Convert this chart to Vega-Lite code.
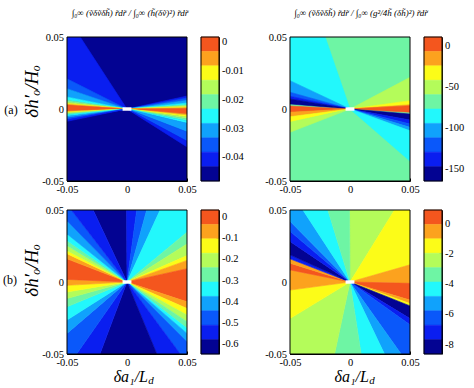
{
"$schema": "https://vega.github.io/schema/vega-lite/v6.json",
"autosize": {"type": "none"},
"padding": {"left": 67, "top": 37, "right": 407, "bottom": 351},
"background": "white",
"config": {
  "view": {"stroke": null},
  "axis": {"labelFont": "Liberation Serif", "labelFontSize": 10.5, "labelColor": "black", "domainColor": "black", "tickColor": "black", "tickSize": -3, "grid": false, "labelFlush": false, "labelOverlap": false, "labelBound": false, "zindex": 1, "titleFont": "Liberation Serif", "titleFontStyle": "italic", "titleFontWeight": "normal", "titleFontSize": 19, "titleColor": "black"}
},
"datasets": {
"w": [
{"p":"a1","t":0,"t2":360,"lev":10},
{"p":"a1","t":296.8,"t2":327,"lev":9},
{"p":"a1","t":288.7,"t2":296.8,"lev":8},
{"p":"a1","t":281.3,"t2":288.7,"lev":7},
{"p":"a1","t":278.3,"t2":281.3,"lev":6},
{"p":"a1","t":276.7,"t2":278.3,"lev":5},
{"p":"a1","t":275.4,"t2":276.7,"lev":4},
{"p":"a1","t":274.5,"t2":275.4,"lev":3},
{"p":"a1","t":273.5,"t2":274.5,"lev":2},
{"p":"a1","t":268,"t2":273.5,"lev":1},
{"p":"a1","t":267.2,"t2":268,"lev":2},
{"p":"a1","t":266.4,"t2":267.2,"lev":3},
{"p":"a1","t":265.5,"t2":266.4,"lev":4},
{"p":"a1","t":264.6,"t2":265.5,"lev":5},
{"p":"a1","t":263.1,"t2":264.6,"lev":6},
{"p":"a1","t":261.5,"t2":263.1,"lev":7},
{"p":"a1","t":259.9,"t2":261.5,"lev":8},
{"p":"a1","t":258.4,"t2":259.9,"lev":9},
{"p":"a1","t":77.8,"t2":79.6,"lev":9},
{"p":"a1","t":79.6,"t2":81.75,"lev":8},
{"p":"a1","t":81.75,"t2":84.3,"lev":7},
{"p":"a1","t":84.3,"t2":85.9,"lev":6},
{"p":"a1","t":85.9,"t2":86.85,"lev":5},
{"p":"a1","t":86.85,"t2":87.8,"lev":4},
{"p":"a1","t":87.8,"t2":88.8,"lev":3},
{"p":"a1","t":88.8,"t2":89.7,"lev":2},
{"p":"a1","t":89.7,"t2":94.8,"lev":1},
{"p":"a1","t":94.8,"t2":96.0,"lev":2},
{"p":"a1","t":96.0,"t2":97.6,"lev":3},
{"p":"a1","t":97.6,"t2":99.2,"lev":4},
{"p":"a1","t":99.2,"t2":101.0,"lev":5},
{"p":"a1","t":101.0,"t2":103.4,"lev":6},
{"p":"a1","t":103.4,"t2":111.0,"lev":7},
{"p":"a1","t":111.0,"t2":118.3,"lev":8},
{"p":"a1","t":118.3,"t2":122.3,"lev":9},

{"p":"a2","t":0,"t2":360,"lev":5},
{"p":"a2","t":295.3,"t2":341,"lev":6},
{"p":"a2","t":285.6,"t2":295.3,"lev":7},
{"p":"a2","t":282,"t2":285.6,"lev":8},
{"p":"a2","t":279.5,"t2":282,"lev":9},
{"p":"a2","t":274.8,"t2":279.5,"lev":10},
{"p":"a2","t":266.9,"t2":272.9,"lev":1},
{"p":"a2","t":262.7,"t2":266.9,"lev":2},
{"p":"a2","t":257.5,"t2":262.7,"lev":3},
{"p":"a2","t":248.8,"t2":257.5,"lev":4},
{"p":"a2","t":62.2,"t2":82.1,"lev":4},
{"p":"a2","t":82.1,"t2":85.9,"lev":3},
{"p":"a2","t":85.9,"t2":86.9,"lev":2},
{"p":"a2","t":86.9,"t2":93.1,"lev":1},
{"p":"a2","t":94.8,"t2":100.4,"lev":10},
{"p":"a2","t":100.4,"t2":104.0,"lev":9},
{"p":"a2","t":104.0,"t2":107.0,"lev":8},
{"p":"a2","t":107.0,"t2":109.9,"lev":7},
{"p":"a2","t":109.9,"t2":131,"lev":6},

{"p":"b1","t":334.8,"t2":359.7,"lev":10},
{"p":"b1","t":359.7,"t2":367.7,"lev":9},
{"p":"b1","t":367.7,"t2":375.3,"lev":8},
{"p":"b1","t":375.3,"t2":384.7,"lev":7},
{"p":"b1","t":384.7,"t2":410.3,"lev":6},
{"p":"b1","t":50.3,"t2":57.6,"lev":5},
{"p":"b1","t":57.6,"t2":66.2,"lev":4},
{"p":"b1","t":66.2,"t2":70.2,"lev":3},
{"p":"b1","t":70.2,"t2":77.5,"lev":2},
{"p":"b1","t":77.5,"t2":108.3,"lev":1},
{"p":"b1","t":108.3,"t2":113.8,"lev":2},
{"p":"b1","t":113.8,"t2":118.9,"lev":3},
{"p":"b1","t":118.9,"t2":123.5,"lev":4},
{"p":"b1","t":123.5,"t2":127.7,"lev":5},
{"p":"b1","t":127.7,"t2":130.6,"lev":6},
{"p":"b1","t":130.6,"t2":135,"lev":7},
{"p":"b1","t":135,"t2":143.5,"lev":8},
{"p":"b1","t":143.5,"t2":157.5,"lev":9},
{"p":"b1","t":157.5,"t2":200.6,"lev":10},
{"p":"b1","t":200.6,"t2":215,"lev":9},
{"p":"b1","t":215,"t2":229.4,"lev":8},
{"p":"b1","t":229.4,"t2":237.6,"lev":7},
{"p":"b1","t":237.6,"t2":247.5,"lev":6},
{"p":"b1","t":247.5,"t2":254.6,"lev":5},
{"p":"b1","t":254.6,"t2":260.6,"lev":4},
{"p":"b1","t":260.6,"t2":266.8,"lev":3},
{"p":"b1","t":266.8,"t2":272.5,"lev":2},
{"p":"b1","t":272.5,"t2":291.1,"lev":1},
{"p":"b1","t":291.1,"t2":295.2,"lev":2},
{"p":"b1","t":295.2,"t2":297.7,"lev":3},
{"p":"b1","t":297.7,"t2":301.3,"lev":4},
{"p":"b1","t":301.3,"t2":304.6,"lev":5},
{"p":"b1","t":304.6,"t2":308.7,"lev":6},
{"p":"b1","t":308.7,"t2":315.6,"lev":7},
{"p":"b1","t":315.6,"t2":322.3,"lev":8},
{"p":"b1","t":322.3,"t2":334.8,"lev":9},

{"p":"b2","t":359.6,"t2":391.7,"lev":4},
{"p":"b2","t":31.7,"t2":74.0,"lev":3},
{"p":"b2","t":74.0,"t2":91.3,"lev":2},
{"p":"b2","t":91.3,"t2":106.8,"lev":1},
{"p":"b2","t":106.8,"t2":109.7,"lev":2},
{"p":"b2","t":109.7,"t2":111.7,"lev":3},
{"p":"b2","t":111.7,"t2":121.4,"lev":10},
{"p":"b2","t":121.4,"t2":125.5,"lev":9},
{"p":"b2","t":125.5,"t2":144.6,"lev":8},
{"p":"b2","t":144.6,"t2":154.4,"lev":7},
{"p":"b2","t":154.4,"t2":171.2,"lev":6},
{"p":"b2","t":171.2,"t2":192.1,"lev":5},
{"p":"b2","t":192.1,"t2":238.6,"lev":4},
{"p":"b2","t":238.6,"t2":262.3,"lev":3},
{"p":"b2","t":262.3,"t2":281.4,"lev":2},
{"p":"b2","t":281.4,"t2":287.4,"lev":1},
{"p":"b2","t":287.4,"t2":291.1,"lev":2},
{"p":"b2","t":291.1,"t2":294.4,"lev":9},
{"p":"b2","t":294.4,"t2":304.1,"lev":10},
{"p":"b2","t":304.1,"t2":310.2,"lev":9},
{"p":"b2","t":310.2,"t2":315.4,"lev":8},
{"p":"b2","t":315.4,"t2":326.8,"lev":7},
{"p":"b2","t":326.8,"t2":342.9,"lev":6},
{"p":"b2","t":342.9,"t2":359.6,"lev":5}
],
"cb": [
{"p":"a1","lev":1,"lo":-0.0034,"hi":0.0016},
{"p":"a1","lev":2,"lo":-0.0084,"hi":-0.0034},
{"p":"a1","lev":3,"lo":-0.0134,"hi":-0.0084},
{"p":"a1","lev":4,"lo":-0.0184,"hi":-0.0134},
{"p":"a1","lev":5,"lo":-0.0234,"hi":-0.0184},
{"p":"a1","lev":6,"lo":-0.0284,"hi":-0.0234},
{"p":"a1","lev":7,"lo":-0.0334,"hi":-0.0284},
{"p":"a1","lev":8,"lo":-0.0384,"hi":-0.0334},
{"p":"a1","lev":9,"lo":-0.0434,"hi":-0.0384},
{"p":"a1","lev":10,"lo":-0.0484,"hi":-0.0434},
{"p":"a2","lev":1,"lo":-7.5,"hi":10},
{"p":"a2","lev":2,"lo":-25,"hi":-7.5},
{"p":"a2","lev":3,"lo":-42.5,"hi":-25},
{"p":"a2","lev":4,"lo":-60,"hi":-42.5},
{"p":"a2","lev":5,"lo":-77.5,"hi":-60},
{"p":"a2","lev":6,"lo":-95,"hi":-77.5},
{"p":"a2","lev":7,"lo":-112.5,"hi":-95},
{"p":"a2","lev":8,"lo":-130,"hi":-112.5},
{"p":"a2","lev":9,"lo":-147.5,"hi":-130},
{"p":"a2","lev":10,"lo":-165,"hi":-147.5},
{"p":"b1","lev":1,"lo":-0.0355,"hi":0.033},
{"p":"b1","lev":2,"lo":-0.104,"hi":-0.0355},
{"p":"b1","lev":3,"lo":-0.1725,"hi":-0.104},
{"p":"b1","lev":4,"lo":-0.241,"hi":-0.1725},
{"p":"b1","lev":5,"lo":-0.3095,"hi":-0.241},
{"p":"b1","lev":6,"lo":-0.378,"hi":-0.3095},
{"p":"b1","lev":7,"lo":-0.4465,"hi":-0.378},
{"p":"b1","lev":8,"lo":-0.515,"hi":-0.4465},
{"p":"b1","lev":9,"lo":-0.5835,"hi":-0.515},
{"p":"b1","lev":10,"lo":-0.652,"hi":-0.5835},
{"p":"b2","lev":1,"lo":-0.074,"hi":0.88},
{"p":"b2","lev":2,"lo":-1.028,"hi":-0.074},
{"p":"b2","lev":3,"lo":-1.982,"hi":-1.028},
{"p":"b2","lev":4,"lo":-2.936,"hi":-1.982},
{"p":"b2","lev":5,"lo":-3.89,"hi":-2.936},
{"p":"b2","lev":6,"lo":-4.844,"hi":-3.89},
{"p":"b2","lev":7,"lo":-5.798,"hi":-4.844},
{"p":"b2","lev":8,"lo":-6.752,"hi":-5.798},
{"p":"b2","lev":9,"lo":-7.706,"hi":-6.752},
{"p":"b2","lev":10,"lo":-8.66,"hi":-7.706}
]
},
"columns": 2,
"spacing": {"row": 29, "column": 103},
"bounds": "flush",
"concat": [
{
 "width": 120, "height": 144,
 "resolve": {"scale": {"y": "independent"}},
 "layer": [
  {"layer": [
   {"data": {"name": "w"}, "transform": [{"filter": "datum.p == 'a1'"}],
    "mark": {"type": "arc", "radius": 130, "clip": true, "strokeWidth": 0.6},
    "encoding": {"theta": {"field": "t", "type": "quantitative", "stack": null, "scale": {"domain": [0, 360], "range": [0, 6.283185307179586]}},
     "theta2": {"field": "t2"},
     "color": {"field": "lev", "type": "ordinal", "scale": {"domain": [1,2,3,4,5,6,7,8,9,10], "range": ["#f4561e","#fca21e","#fcfc18","#b4fc5a","#6ef5a4","#22f8fc","#10a2fc","#0a58fa","#0a1ef0","#030392"]}, "legend": null},
     "stroke": {"field": "lev", "type": "ordinal", "scale": {"domain": [1,2,3,4,5,6,7,8,9,10], "range": ["#f4561e","#fca21e","#fcfc18","#b4fc5a","#6ef5a4","#22f8fc","#10a2fc","#0a58fa","#0a1ef0","#030392"]}, "legend": null}}},
   {"data": {"values": [{}]}, "mark": {"type": "rect", "fill": "white"},
    "encoding": {"x": {"datum": -0.0037, "type": "quantitative", "scale": {"domain": [-0.05, 0.05], "nice": false, "zero": false}, "axis": {"values": [-0.05, 0, 0.05], "labelExpr": "datum.value == 0 ? '0' : (datum.value < 0 ? '-' : '') + format(abs(datum.value), '~g')", "title": null, "labelPadding": 6, "labelOverlap": false}},
     "x2": {"datum": 0.0037},
     "y": {"datum": -0.0012, "type": "quantitative", "scale": {"domain": [-0.05, 0.05], "nice": false, "zero": false}, "axis": {"values": [-0.05, 0, 0.05], "labelExpr": "datum.value == 0 ? '0' : (datum.value < 0 ? '-' : '') + format(abs(datum.value), '~g')", "title": "\u03b4h\u2032\u2092/H\u2092", "titleX": -36, "titleY": 54, "titleBaseline": "middle", "labelPadding": 6.5, "labelOverlap": false}},
     "y2": {"datum": 0.0012}}},
   {"data": {"values": [{}]}, "mark": {"type": "rect", "filled": false, "stroke": "black", "strokeWidth": 1},
    "encoding": {"x": {"datum": -0.05, "type": "quantitative", "scale": {"domain": [-0.05, 0.05], "nice": false, "zero": false}, "axis": {"values": [-0.05, 0, 0.05], "labelExpr": "datum.value == 0 ? '0' : (datum.value < 0 ? '-' : '') + format(abs(datum.value), '~g')", "title": null, "labelPadding": 6, "labelOverlap": false}}, "x2": {"datum": 0.05},
     "y": {"datum": -0.05, "type": "quantitative", "scale": {"domain": [-0.05, 0.05], "nice": false, "zero": false}, "axis": {"values": [-0.05, 0, 0.05], "labelExpr": "datum.value == 0 ? '0' : (datum.value < 0 ? '-' : '') + format(abs(datum.value), '~g')", "title": "\u03b4h\u2032\u2092/H\u2092", "titleX": -36, "titleY": 54, "titleBaseline": "middle", "labelPadding": 6.5, "labelOverlap": false}}, "y2": {"datum": 0.05}}},
   {"data": {"values": [{}]}, "mark": {"type": "text", "text": "(a)", "font": "Liberation Serif", "fontSize": 12, "color": "black"},
    "encoding": {"x": {"datum": -0.0967, "type": "quantitative", "scale": {"domain": [-0.05, 0.05], "nice": false, "zero": false}, "axis": {"values": [-0.05, 0, 0.05], "labelExpr": "datum.value == 0 ? '0' : (datum.value < 0 ? '-' : '') + format(abs(datum.value), '~g')", "title": null, "labelPadding": 6, "labelOverlap": false}},
     "y": {"datum": -0.0007, "type": "quantitative", "scale": {"domain": [-0.05, 0.05], "nice": false, "zero": false}, "axis": {"values": [-0.05, 0, 0.05], "labelExpr": "datum.value == 0 ? '0' : (datum.value < 0 ? '-' : '') + format(abs(datum.value), '~g')", "title": "\u03b4h\u2032\u2092/H\u2092", "titleX": -36, "titleY": 54, "titleBaseline": "middle", "labelPadding": 6.5, "labelOverlap": false}}}},
   {"data": {"values": [{}]}, "mark": {"type": "text", "text": "\u222b\u2080\u221e (\u1e7d\u03b4\u1e7d\u03b4h\u0303) r\u0303dr\u0303 / \u222b\u2080\u221e (h\u0303(\u03b4\u1e7d)\u00b2) r\u0303dr\u0303", "font": "Liberation Serif", "fontStyle": "italic", "fontSize": 9, "color": "black"},
    "encoding": {"x": {"datum": 0.0025, "type": "quantitative", "scale": {"domain": [-0.05, 0.05], "nice": false, "zero": false}, "axis": {"values": [-0.05, 0, 0.05], "labelExpr": "datum.value == 0 ? '0' : (datum.value < 0 ? '-' : '') + format(abs(datum.value), '~g')", "title": null, "labelPadding": 6, "labelOverlap": false}},
     "y": {"datum": 0.0667, "type": "quantitative", "scale": {"domain": [-0.05, 0.05], "nice": false, "zero": false}, "axis": {"values": [-0.05, 0, 0.05], "labelExpr": "datum.value == 0 ? '0' : (datum.value < 0 ? '-' : '') + format(abs(datum.value), '~g')", "title": "\u03b4h\u2032\u2092/H\u2092", "titleX": -36, "titleY": 54, "titleBaseline": "middle", "labelPadding": 6.5, "labelOverlap": false}}}}
  ]},
  {"layer": [
   {"data": {"name": "cb"}, "transform": [{"filter": "datum.p == 'a1'"}],
    "mark": {"type": "rect", "strokeWidth": 0.5},
    "encoding": {"x": {"datum": 0.06167, "type": "quantitative"}, "x2": {"datum": 0.07667},
     "y": {"field": "lo", "type": "quantitative", "scale": {"domain": [-0.0484, 0.0016], "nice": false, "zero": false}, "axis": {"orient": "right", "offset": 32, "values": [0, -0.01, -0.02, -0.03, -0.04], "labelExpr": "datum.value == 0 ? '0' : (datum.value < 0 ? '-' : '') + format(abs(datum.value), '~g')", "title": null, "labelPadding": 5.5, "labelOverlap": false}},
     "y2": {"field": "hi"},
     "color": {"field": "lev", "type": "ordinal", "scale": {"domain": [1,2,3,4,5,6,7,8,9,10], "range": ["#f4561e","#fca21e","#fcfc18","#b4fc5a","#6ef5a4","#22f8fc","#10a2fc","#0a58fa","#0a1ef0","#030392"]}, "legend": null},
     "stroke": {"field": "lev", "type": "ordinal", "scale": {"domain": [1,2,3,4,5,6,7,8,9,10], "range": ["#f4561e","#fca21e","#fcfc18","#b4fc5a","#6ef5a4","#22f8fc","#10a2fc","#0a58fa","#0a1ef0","#030392"]}, "legend": null}}},
   {"data": {"values": [{}]}, "mark": {"type": "rect", "filled": false, "stroke": "black", "strokeWidth": 1},
    "encoding": {"x": {"datum": 0.06167, "type": "quantitative"}, "x2": {"datum": 0.07667},
     "y": {"datum": -0.0484, "type": "quantitative", "scale": {"domain": [-0.0484, 0.0016], "nice": false, "zero": false}, "axis": {"orient": "right", "offset": 32, "values": [0, -0.01, -0.02, -0.03, -0.04], "labelExpr": "datum.value == 0 ? '0' : (datum.value < 0 ? '-' : '') + format(abs(datum.value), '~g')", "title": null, "labelPadding": 5.5, "labelOverlap": false}}, "y2": {"datum": 0.0016}}}
  ]}
 ]
},
{
 "width": 120, "height": 144,
 "resolve": {"scale": {"y": "independent"}},
 "layer": [
  {"layer": [
   {"data": {"name": "w"}, "transform": [{"filter": "datum.p == 'a2'"}],
    "mark": {"type": "arc", "radius": 130, "clip": true, "strokeWidth": 0.6},
    "encoding": {"theta": {"field": "t", "type": "quantitative", "stack": null, "scale": {"domain": [0, 360], "range": [0, 6.283185307179586]}},
     "theta2": {"field": "t2"},
     "color": {"field": "lev", "type": "ordinal", "scale": {"domain": [1,2,3,4,5,6,7,8,9,10], "range": ["#f4561e","#fca21e","#fcfc18","#b4fc5a","#6ef5a4","#22f8fc","#10a2fc","#0a58fa","#0a1ef0","#030392"]}, "legend": null},
     "stroke": {"field": "lev", "type": "ordinal", "scale": {"domain": [1,2,3,4,5,6,7,8,9,10], "range": ["#f4561e","#fca21e","#fcfc18","#b4fc5a","#6ef5a4","#22f8fc","#10a2fc","#0a58fa","#0a1ef0","#030392"]}, "legend": null}}},
   {"data": {"values": [{}]}, "mark": {"type": "rect", "fill": "white"},
    "encoding": {"x": {"datum": -0.0037, "type": "quantitative", "scale": {"domain": [-0.05, 0.05], "nice": false, "zero": false}, "axis": {"values": [-0.05, 0, 0.05], "labelExpr": "datum.value == 0 ? '0' : (datum.value < 0 ? '-' : '') + format(abs(datum.value), '~g')", "title": null, "labelPadding": 6, "labelOverlap": false}},
     "x2": {"datum": 0.0037},
     "y": {"datum": -0.0012, "type": "quantitative", "scale": {"domain": [-0.05, 0.05], "nice": false, "zero": false}, "axis": {"values": [-0.05, 0, 0.05], "labelExpr": "datum.value == 0 ? '0' : (datum.value < 0 ? '-' : '') + format(abs(datum.value), '~g')", "title": null, "labelPadding": 6.5, "labelOverlap": false}},
     "y2": {"datum": 0.0012}}},
   {"data": {"values": [{}]}, "mark": {"type": "rect", "filled": false, "stroke": "black", "strokeWidth": 1},
    "encoding": {"x": {"datum": -0.05, "type": "quantitative", "scale": {"domain": [-0.05, 0.05], "nice": false, "zero": false}, "axis": {"values": [-0.05, 0, 0.05], "labelExpr": "datum.value == 0 ? '0' : (datum.value < 0 ? '-' : '') + format(abs(datum.value), '~g')", "title": null, "labelPadding": 6, "labelOverlap": false}}, "x2": {"datum": 0.05},
     "y": {"datum": -0.05, "type": "quantitative", "scale": {"domain": [-0.05, 0.05], "nice": false, "zero": false}, "axis": {"values": [-0.05, 0, 0.05], "labelExpr": "datum.value == 0 ? '0' : (datum.value < 0 ? '-' : '') + format(abs(datum.value), '~g')", "title": null, "labelPadding": 6.5, "labelOverlap": false}}, "y2": {"datum": 0.05}}},
   {"data": {"values": [{}]}, "mark": {"type": "text", "text": "\u222b\u2080\u221e (\u1e7d\u03b4\u1e7d\u03b4h\u0303) r\u0303dr\u0303 / \u222b\u2080\u221e (g\u00b2/4h\u0303 (\u03b4h\u0303)\u00b2) r\u0303dr\u0303", "font": "Liberation Serif", "fontStyle": "italic", "fontSize": 9, "color": "black"},
    "encoding": {"x": {"datum": 0.0092, "type": "quantitative", "scale": {"domain": [-0.05, 0.05], "nice": false, "zero": false}, "axis": {"values": [-0.05, 0, 0.05], "labelExpr": "datum.value == 0 ? '0' : (datum.value < 0 ? '-' : '') + format(abs(datum.value), '~g')", "title": null, "labelPadding": 6, "labelOverlap": false}},
     "y": {"datum": 0.0667, "type": "quantitative", "scale": {"domain": [-0.05, 0.05], "nice": false, "zero": false}, "axis": {"values": [-0.05, 0, 0.05], "labelExpr": "datum.value == 0 ? '0' : (datum.value < 0 ? '-' : '') + format(abs(datum.value), '~g')", "title": null, "labelPadding": 6.5, "labelOverlap": false}}}}
  ]},
  {"layer": [
   {"data": {"name": "cb"}, "transform": [{"filter": "datum.p == 'a2'"}],
    "mark": {"type": "rect", "strokeWidth": 0.5},
    "encoding": {"x": {"datum": 0.06167, "type": "quantitative"}, "x2": {"datum": 0.07667},
     "y": {"field": "lo", "type": "quantitative", "scale": {"domain": [-165, 10], "nice": false, "zero": false}, "axis": {"orient": "right", "offset": 32, "values": [0, -50, -100, -150], "labelExpr": "datum.value == 0 ? '0' : (datum.value < 0 ? '-' : '') + format(abs(datum.value), '~g')", "title": null, "labelPadding": 5.5, "labelOverlap": false}},
     "y2": {"field": "hi"},
     "color": {"field": "lev", "type": "ordinal", "scale": {"domain": [1,2,3,4,5,6,7,8,9,10], "range": ["#f4561e","#fca21e","#fcfc18","#b4fc5a","#6ef5a4","#22f8fc","#10a2fc","#0a58fa","#0a1ef0","#030392"]}, "legend": null},
     "stroke": {"field": "lev", "type": "ordinal", "scale": {"domain": [1,2,3,4,5,6,7,8,9,10], "range": ["#f4561e","#fca21e","#fcfc18","#b4fc5a","#6ef5a4","#22f8fc","#10a2fc","#0a58fa","#0a1ef0","#030392"]}, "legend": null}}},
   {"data": {"values": [{}]}, "mark": {"type": "rect", "filled": false, "stroke": "black", "strokeWidth": 1},
    "encoding": {"x": {"datum": 0.06167, "type": "quantitative"}, "x2": {"datum": 0.07667},
     "y": {"datum": -165, "type": "quantitative", "scale": {"domain": [-165, 10], "nice": false, "zero": false}, "axis": {"orient": "right", "offset": 32, "values": [0, -50, -100, -150], "labelExpr": "datum.value == 0 ? '0' : (datum.value < 0 ? '-' : '') + format(abs(datum.value), '~g')", "title": null, "labelPadding": 5.5, "labelOverlap": false}}, "y2": {"datum": 10}}}
  ]}
 ]
},
{
 "width": 120, "height": 144,
 "resolve": {"scale": {"y": "independent"}},
 "layer": [
  {"layer": [
   {"data": {"name": "w"}, "transform": [{"filter": "datum.p == 'b1'"}],
    "mark": {"type": "arc", "radius": 130, "clip": true, "strokeWidth": 0.6},
    "encoding": {"theta": {"field": "t", "type": "quantitative", "stack": null, "scale": {"domain": [0, 360], "range": [0, 6.283185307179586]}},
     "theta2": {"field": "t2"},
     "color": {"field": "lev", "type": "ordinal", "scale": {"domain": [1,2,3,4,5,6,7,8,9,10], "range": ["#f4561e","#fca21e","#fcfc18","#b4fc5a","#6ef5a4","#22f8fc","#10a2fc","#0a58fa","#0a1ef0","#030392"]}, "legend": null},
     "stroke": {"field": "lev", "type": "ordinal", "scale": {"domain": [1,2,3,4,5,6,7,8,9,10], "range": ["#f4561e","#fca21e","#fcfc18","#b4fc5a","#6ef5a4","#22f8fc","#10a2fc","#0a58fa","#0a1ef0","#030392"]}, "legend": null}}},
   {"data": {"values": [{}]}, "mark": {"type": "rect", "fill": "white"},
    "encoding": {"x": {"datum": -0.0037, "type": "quantitative", "scale": {"domain": [-0.05, 0.05], "nice": false, "zero": false}, "axis": {"values": [-0.05, 0, 0.05], "labelExpr": "datum.value == 0 ? '0' : (datum.value < 0 ? '-' : '') + format(abs(datum.value), '~g')", "title": null, "labelPadding": 6, "labelOverlap": false}},
     "x2": {"datum": 0.0037},
     "y": {"datum": -0.0012, "type": "quantitative", "scale": {"domain": [-0.05, 0.05], "nice": false, "zero": false}, "axis": {"values": [-0.05, 0, 0.05], "labelExpr": "datum.value == 0 ? '0' : (datum.value < 0 ? '-' : '') + format(abs(datum.value), '~g')", "title": "\u03b4h\u2032\u2092/H\u2092", "titleX": -36, "titleY": 60, "titleBaseline": "middle", "labelPadding": 6.5, "labelOverlap": false}},
     "y2": {"datum": 0.0012}}},
   {"data": {"values": [{}]}, "mark": {"type": "rect", "filled": false, "stroke": "black", "strokeWidth": 1},
    "encoding": {"x": {"datum": -0.05, "type": "quantitative", "scale": {"domain": [-0.05, 0.05], "nice": false, "zero": false}, "axis": {"values": [-0.05, 0, 0.05], "labelExpr": "datum.value == 0 ? '0' : (datum.value < 0 ? '-' : '') + format(abs(datum.value), '~g')", "title": null, "labelPadding": 6, "labelOverlap": false}}, "x2": {"datum": 0.05},
     "y": {"datum": -0.05, "type": "quantitative", "scale": {"domain": [-0.05, 0.05], "nice": false, "zero": false}, "axis": {"values": [-0.05, 0, 0.05], "labelExpr": "datum.value == 0 ? '0' : (datum.value < 0 ? '-' : '') + format(abs(datum.value), '~g')", "title": "\u03b4h\u2032\u2092/H\u2092", "titleX": -36, "titleY": 60, "titleBaseline": "middle", "labelPadding": 6.5, "labelOverlap": false}}, "y2": {"datum": 0.05}}},
   {"data": {"values": [{}]}, "mark": {"type": "text", "text": "(b)", "font": "Liberation Serif", "fontSize": 12, "color": "black"},
    "encoding": {"x": {"datum": -0.0975, "type": "quantitative", "scale": {"domain": [-0.05, 0.05], "nice": false, "zero": false}, "axis": {"values": [-0.05, 0, 0.05], "labelExpr": "datum.value == 0 ? '0' : (datum.value < 0 ? '-' : '') + format(abs(datum.value), '~g')", "title": null, "labelPadding": 6, "labelOverlap": false}},
     "y": {"datum": 0.0014, "type": "quantitative", "scale": {"domain": [-0.05, 0.05], "nice": false, "zero": false}, "axis": {"values": [-0.05, 0, 0.05], "labelExpr": "datum.value == 0 ? '0' : (datum.value < 0 ? '-' : '') + format(abs(datum.value), '~g')", "title": "\u03b4h\u2032\u2092/H\u2092", "titleX": -36, "titleY": 60, "titleBaseline": "middle", "labelPadding": 6.5, "labelOverlap": false}}}},
   {"data": {"values": [{}]}, "mark": {"type": "text", "text": "\u03b4a\u2081/L", "align": "right", "font": "Liberation Serif", "fontStyle": "italic", "fontSize": 16, "color": "black"},
    "encoding": {"x": {"datum": 0.0175, "type": "quantitative", "scale": {"domain": [-0.05, 0.05], "nice": false, "zero": false}, "axis": {"values": [-0.05, 0, 0.05], "labelExpr": "datum.value == 0 ? '0' : (datum.value < 0 ? '-' : '') + format(abs(datum.value), '~g')", "title": null, "labelPadding": 6, "labelOverlap": false}},
     "y": {"datum": -0.0658, "type": "quantitative", "scale": {"domain": [-0.05, 0.05], "nice": false, "zero": false}, "axis": {"values": [-0.05, 0, 0.05], "labelExpr": "datum.value == 0 ? '0' : (datum.value < 0 ? '-' : '') + format(abs(datum.value), '~g')", "title": "\u03b4h\u2032\u2092/H\u2092", "titleX": -36, "titleY": 60, "titleBaseline": "middle", "labelPadding": 6.5, "labelOverlap": false}}}},
   {"data": {"values": [{}]}, "mark": {"type": "text", "text": "d", "align": "left", "font": "Liberation Serif", "fontStyle": "italic", "fontSize": 11, "color": "black"},
    "encoding": {"x": {"datum": 0.0178, "type": "quantitative", "scale": {"domain": [-0.05, 0.05], "nice": false, "zero": false}, "axis": {"values": [-0.05, 0, 0.05], "labelExpr": "datum.value == 0 ? '0' : (datum.value < 0 ? '-' : '') + format(abs(datum.value), '~g')", "title": null, "labelPadding": 6, "labelOverlap": false}},
     "y": {"datum": -0.0689, "type": "quantitative", "scale": {"domain": [-0.05, 0.05], "nice": false, "zero": false}, "axis": {"values": [-0.05, 0, 0.05], "labelExpr": "datum.value == 0 ? '0' : (datum.value < 0 ? '-' : '') + format(abs(datum.value), '~g')", "title": "\u03b4h\u2032\u2092/H\u2092", "titleX": -36, "titleY": 60, "titleBaseline": "middle", "labelPadding": 6.5, "labelOverlap": false}}}}
  ]},
  {"layer": [
   {"data": {"name": "cb"}, "transform": [{"filter": "datum.p == 'b1'"}],
    "mark": {"type": "rect", "strokeWidth": 0.5},
    "encoding": {"x": {"datum": 0.06167, "type": "quantitative"}, "x2": {"datum": 0.07667},
     "y": {"field": "lo", "type": "quantitative", "scale": {"domain": [-0.652, 0.033], "nice": false, "zero": false}, "axis": {"orient": "right", "offset": 32, "values": [0, -0.1, -0.2, -0.3, -0.4, -0.5, -0.6], "labelExpr": "datum.value == 0 ? '0' : (datum.value < 0 ? '-' : '') + format(abs(datum.value), '~g')", "title": null, "labelPadding": 5.5, "labelOverlap": false}},
     "y2": {"field": "hi"},
     "color": {"field": "lev", "type": "ordinal", "scale": {"domain": [1,2,3,4,5,6,7,8,9,10], "range": ["#f4561e","#fca21e","#fcfc18","#b4fc5a","#6ef5a4","#22f8fc","#10a2fc","#0a58fa","#0a1ef0","#030392"]}, "legend": null},
     "stroke": {"field": "lev", "type": "ordinal", "scale": {"domain": [1,2,3,4,5,6,7,8,9,10], "range": ["#f4561e","#fca21e","#fcfc18","#b4fc5a","#6ef5a4","#22f8fc","#10a2fc","#0a58fa","#0a1ef0","#030392"]}, "legend": null}}},
   {"data": {"values": [{}]}, "mark": {"type": "rect", "filled": false, "stroke": "black", "strokeWidth": 1},
    "encoding": {"x": {"datum": 0.06167, "type": "quantitative"}, "x2": {"datum": 0.07667},
     "y": {"datum": -0.652, "type": "quantitative", "scale": {"domain": [-0.652, 0.033], "nice": false, "zero": false}, "axis": {"orient": "right", "offset": 32, "values": [0, -0.1, -0.2, -0.3, -0.4, -0.5, -0.6], "labelExpr": "datum.value == 0 ? '0' : (datum.value < 0 ? '-' : '') + format(abs(datum.value), '~g')", "title": null, "labelPadding": 5.5, "labelOverlap": false}}, "y2": {"datum": 0.033}}}
  ]}
 ]
},
{
 "width": 120, "height": 144,
 "resolve": {"scale": {"y": "independent"}},
 "layer": [
  {"layer": [
   {"data": {"name": "w"}, "transform": [{"filter": "datum.p == 'b2'"}],
    "mark": {"type": "arc", "radius": 130, "clip": true, "strokeWidth": 0.6},
    "encoding": {"theta": {"field": "t", "type": "quantitative", "stack": null, "scale": {"domain": [0, 360], "range": [0, 6.283185307179586]}},
     "theta2": {"field": "t2"},
     "color": {"field": "lev", "type": "ordinal", "scale": {"domain": [1,2,3,4,5,6,7,8,9,10], "range": ["#f4561e","#fca21e","#fcfc18","#b4fc5a","#6ef5a4","#22f8fc","#10a2fc","#0a58fa","#0a1ef0","#030392"]}, "legend": null},
     "stroke": {"field": "lev", "type": "ordinal", "scale": {"domain": [1,2,3,4,5,6,7,8,9,10], "range": ["#f4561e","#fca21e","#fcfc18","#b4fc5a","#6ef5a4","#22f8fc","#10a2fc","#0a58fa","#0a1ef0","#030392"]}, "legend": null}}},
   {"data": {"values": [{}]}, "mark": {"type": "rect", "fill": "white"},
    "encoding": {"x": {"datum": -0.0037, "type": "quantitative", "scale": {"domain": [-0.05, 0.05], "nice": false, "zero": false}, "axis": {"values": [-0.05, 0, 0.05], "labelExpr": "datum.value == 0 ? '0' : (datum.value < 0 ? '-' : '') + format(abs(datum.value), '~g')", "title": null, "labelPadding": 6, "labelOverlap": false}},
     "x2": {"datum": 0.0037},
     "y": {"datum": -0.0012, "type": "quantitative", "scale": {"domain": [-0.05, 0.05], "nice": false, "zero": false}, "axis": {"values": [-0.05, 0, 0.05], "labelExpr": "datum.value == 0 ? '0' : (datum.value < 0 ? '-' : '') + format(abs(datum.value), '~g')", "title": null, "labelPadding": 6.5, "labelOverlap": false}},
     "y2": {"datum": 0.0012}}},
   {"data": {"values": [{}]}, "mark": {"type": "rect", "filled": false, "stroke": "black", "strokeWidth": 1},
    "encoding": {"x": {"datum": -0.05, "type": "quantitative", "scale": {"domain": [-0.05, 0.05], "nice": false, "zero": false}, "axis": {"values": [-0.05, 0, 0.05], "labelExpr": "datum.value == 0 ? '0' : (datum.value < 0 ? '-' : '') + format(abs(datum.value), '~g')", "title": null, "labelPadding": 6, "labelOverlap": false}}, "x2": {"datum": 0.05},
     "y": {"datum": -0.05, "type": "quantitative", "scale": {"domain": [-0.05, 0.05], "nice": false, "zero": false}, "axis": {"values": [-0.05, 0, 0.05], "labelExpr": "datum.value == 0 ? '0' : (datum.value < 0 ? '-' : '') + format(abs(datum.value), '~g')", "title": null, "labelPadding": 6.5, "labelOverlap": false}}, "y2": {"datum": 0.05}}},
   {"data": {"values": [{}]}, "mark": {"type": "text", "text": "\u03b4a\u2081/L", "align": "right", "font": "Liberation Serif", "fontStyle": "italic", "fontSize": 16, "color": "black"},
    "encoding": {"x": {"datum": 0.0158, "type": "quantitative", "scale": {"domain": [-0.05, 0.05], "nice": false, "zero": false}, "axis": {"values": [-0.05, 0, 0.05], "labelExpr": "datum.value == 0 ? '0' : (datum.value < 0 ? '-' : '') + format(abs(datum.value), '~g')", "title": null, "labelPadding": 6, "labelOverlap": false}},
     "y": {"datum": -0.0658, "type": "quantitative", "scale": {"domain": [-0.05, 0.05], "nice": false, "zero": false}, "axis": {"values": [-0.05, 0, 0.05], "labelExpr": "datum.value == 0 ? '0' : (datum.value < 0 ? '-' : '') + format(abs(datum.value), '~g')", "title": null, "labelPadding": 6.5, "labelOverlap": false}}}},
   {"data": {"values": [{}]}, "mark": {"type": "text", "text": "d", "align": "left", "font": "Liberation Serif", "fontStyle": "italic", "fontSize": 11, "color": "black"},
    "encoding": {"x": {"datum": 0.0161, "type": "quantitative", "scale": {"domain": [-0.05, 0.05], "nice": false, "zero": false}, "axis": {"values": [-0.05, 0, 0.05], "labelExpr": "datum.value == 0 ? '0' : (datum.value < 0 ? '-' : '') + format(abs(datum.value), '~g')", "title": null, "labelPadding": 6, "labelOverlap": false}},
     "y": {"datum": -0.0689, "type": "quantitative", "scale": {"domain": [-0.05, 0.05], "nice": false, "zero": false}, "axis": {"values": [-0.05, 0, 0.05], "labelExpr": "datum.value == 0 ? '0' : (datum.value < 0 ? '-' : '') + format(abs(datum.value), '~g')", "title": null, "labelPadding": 6.5, "labelOverlap": false}}}}
  ]},
  {"layer": [
   {"data": {"name": "cb"}, "transform": [{"filter": "datum.p == 'b2'"}],
    "mark": {"type": "rect", "strokeWidth": 0.5},
    "encoding": {"x": {"datum": 0.06167, "type": "quantitative"}, "x2": {"datum": 0.07667},
     "y": {"field": "lo", "type": "quantitative", "scale": {"domain": [-8.66, 0.88], "nice": false, "zero": false}, "axis": {"orient": "right", "offset": 32, "values": [0, -2, -4, -6, -8], "labelExpr": "datum.value == 0 ? '0' : (datum.value < 0 ? '-' : '') + format(abs(datum.value), '~g')", "title": null, "labelPadding": 5.5, "labelOverlap": false}},
     "y2": {"field": "hi"},
     "color": {"field": "lev", "type": "ordinal", "scale": {"domain": [1,2,3,4,5,6,7,8,9,10], "range": ["#f4561e","#fca21e","#fcfc18","#b4fc5a","#6ef5a4","#22f8fc","#10a2fc","#0a58fa","#0a1ef0","#030392"]}, "legend": null},
     "stroke": {"field": "lev", "type": "ordinal", "scale": {"domain": [1,2,3,4,5,6,7,8,9,10], "range": ["#f4561e","#fca21e","#fcfc18","#b4fc5a","#6ef5a4","#22f8fc","#10a2fc","#0a58fa","#0a1ef0","#030392"]}, "legend": null}}},
   {"data": {"values": [{}]}, "mark": {"type": "rect", "filled": false, "stroke": "black", "strokeWidth": 1},
    "encoding": {"x": {"datum": 0.06167, "type": "quantitative"}, "x2": {"datum": 0.07667},
     "y": {"datum": -8.66, "type": "quantitative", "scale": {"domain": [-8.66, 0.88], "nice": false, "zero": false}, "axis": {"orient": "right", "offset": 32, "values": [0, -2, -4, -6, -8], "labelExpr": "datum.value == 0 ? '0' : (datum.value < 0 ? '-' : '') + format(abs(datum.value), '~g')", "title": null, "labelPadding": 5.5, "labelOverlap": false}}, "y2": {"datum": 0.88}}}
  ]}
 ]
}
]
}
